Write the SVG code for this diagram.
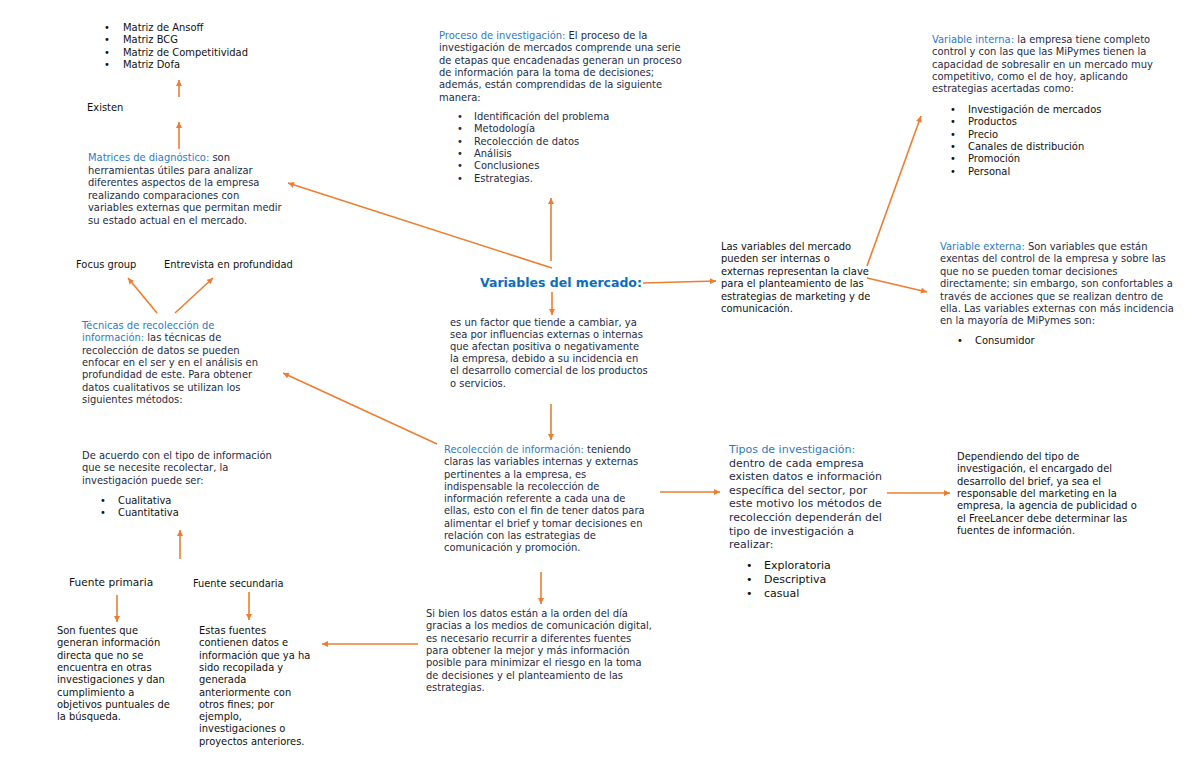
<svg xmlns="http://www.w3.org/2000/svg" width="1200" height="776" viewBox="0 0 1200 776">
<defs>
<marker id="ah" viewBox="0 0 10 10" refX="10" refY="5" markerWidth="7" markerHeight="6" markerUnits="userSpaceOnUse" orient="auto">
<path d="M0,0 L10,5 L0,10 z" fill="#ed7d31"/>
</marker>
<style>
text{font-family:"DejaVu Sans","Liberation Sans",sans-serif;font-size:9.93px;fill:#1f2b45}
.h{fill:#2e7ac4}
.k{fill:#111111}
.t{font-size:12.5px;font-weight:bold;fill:#0a6ebd}
.m{font-size:11px}
.c line{stroke:#ed7d31;stroke-width:1.6;marker-end:url(#ah)}
</style>
</defs>
<rect width="1200" height="776" fill="#ffffff"/>

<g class="c" id="connectors">
<line x1="179" y1="97" x2="179" y2="80"/>
<line x1="179" y1="149" x2="179" y2="122"/>
<line x1="552" y1="268" x2="288" y2="183"/>
<line x1="551" y1="261" x2="551" y2="198"/>
<line x1="643" y1="283" x2="716" y2="281"/>
<line x1="552" y1="292" x2="552" y2="315"/>
<line x1="551" y1="404" x2="551" y2="440"/>
<line x1="437" y1="444" x2="283" y2="373"/>
<line x1="157" y1="313" x2="128" y2="278"/>
<line x1="175" y1="313" x2="213" y2="278"/>
<line x1="660" y1="492" x2="720" y2="492"/>
<line x1="887" y1="493" x2="950" y2="493"/>
<line x1="541" y1="572" x2="541" y2="604"/>
<line x1="418" y1="644" x2="322" y2="644"/>
<line x1="117" y1="595" x2="117" y2="622"/>
<line x1="249" y1="592" x2="249" y2="620"/>
<line x1="180" y1="559" x2="180" y2="530"/>
<line x1="867" y1="266" x2="921" y2="116"/>
<line x1="867" y1="278" x2="927" y2="292"/>
</g>

<g id="matrices-list" class="k">
<text class="k" x="104" y="31">•<tspan x="104" dy="12.3">•</tspan><tspan x="104" dy="12.3">•</tspan><tspan x="104" dy="12.3">•</tspan></text>
<text class="k" x="123" y="31">Matriz de Ansoff<tspan x="123" dy="12.3">Matriz BCG</tspan><tspan x="123" dy="12.3">Matriz de Competitividad</tspan><tspan x="123" dy="12.3">Matriz Dofa</tspan></text>
</g>

<g id="existen"><text class="k" x="87" y="111">Existen</text></g>

<g id="matrices">
<text x="88" y="161"><tspan class="h">Matrices de diagnóstico:</tspan> son<tspan x="88" dy="12.5">herramientas útiles para analizar</tspan><tspan x="88" dy="12.5">diferentes aspectos de la empresa</tspan><tspan x="88" dy="12.5">realizando comparaciones con</tspan><tspan x="88" dy="12.5">variables externas que permitan medir</tspan><tspan x="88" dy="12.5">su estado actual en el mercado.</tspan></text>
</g>

<g id="proceso">
<text x="439" y="39"><tspan class="h">Proceso de investigación:</tspan> El proceso de la<tspan x="439" dy="12.3">investigación de mercados comprende una serie</tspan><tspan x="439" dy="12.3">de etapas que encadenadas generan un proceso</tspan><tspan x="439" dy="12.3">de información para la toma de decisiones;</tspan><tspan x="439" dy="12.3">además, están comprendidas de la siguiente</tspan><tspan x="439" dy="12.3">manera:</tspan></text>
<text x="457" y="120">•<tspan x="457" dy="12.3">•</tspan><tspan x="457" dy="12.3">•</tspan><tspan x="457" dy="12.3">•</tspan><tspan x="457" dy="12.3">•</tspan><tspan x="457" dy="12.3">•</tspan></text>
<text x="474" y="120">Identificación del problema<tspan x="474" dy="12.3">Metodología</tspan><tspan x="474" dy="12.3">Recolección de datos</tspan><tspan x="474" dy="12.3">Análisis</tspan><tspan x="474" dy="12.3">Conclusiones</tspan><tspan x="474" dy="12.3">Estrategias.</tspan></text>
</g>

<g id="variable-interna">
<text x="932" y="43"><tspan class="h">Variable interna:</tspan> la empresa tiene completo<tspan x="932" dy="12.3">control y con las que las MiPymes tienen la</tspan><tspan x="932" dy="12.3">capacidad de sobresalir en un mercado muy</tspan><tspan x="932" dy="12.3">competitivo, como el de hoy, aplicando</tspan><tspan x="932" dy="12.3">estrategias acertadas como:</tspan></text>
<text class="k" x="950" y="113">•<tspan x="950" dy="12.3">•</tspan><tspan x="950" dy="12.3">•</tspan><tspan x="950" dy="12.3">•</tspan><tspan x="950" dy="12.3">•</tspan><tspan x="950" dy="12.3">•</tspan></text>
<text class="k" x="968" y="113">Investigación de mercados<tspan x="968" dy="12.3">Productos</tspan><tspan x="968" dy="12.3">Precio</tspan><tspan x="968" dy="12.3">Canales de distribución</tspan><tspan x="968" dy="12.3">Promoción</tspan><tspan x="968" dy="12.3">Personal</tspan></text>
</g>

<g id="focus-group"><text class="k" x="76" y="268">Focus group</text></g>
<g id="entrevista"><text class="k" x="164" y="268">Entrevista en profundidad</text></g>

<g id="tecnicas">
<text x="82" y="329"><tspan class="h">Técnicas de recolección de</tspan><tspan x="82" dy="12.3" class="h">información:</tspan> las técnicas de<tspan x="82" dy="12.3">recolección de datos se pueden</tspan><tspan x="82" dy="12.3">enfocar en el ser y en el análisis en</tspan><tspan x="82" dy="12.3">profundidad de este. Para obtener</tspan><tspan x="82" dy="12.3">datos cualitativos se utilizan los</tspan><tspan x="82" dy="12.3">siguientes métodos:</tspan></text>
</g>

<g id="variables-mercado">
<text class="t" x="480" y="287">Variables del mercado:</text>
</g>

<g id="definicion">
<text x="450" y="326">es un factor que tiende a cambiar, ya<tspan x="450" dy="12.1">sea por influencias externas o internas</tspan><tspan x="450" dy="12.1">que afectan positiva o negativamente</tspan><tspan x="450" dy="12.1">la empresa, debido a su incidencia en</tspan><tspan x="450" dy="12.1">el desarrollo comercial de los productos</tspan><tspan x="450" dy="12.1">o servicios.</tspan></text>
</g>

<g id="las-variables">
<text class="k" x="721" y="250">Las variables del mercado<tspan x="721" dy="12.4">pueden ser internas o</tspan><tspan x="721" dy="12.4">externas representan la clave</tspan><tspan x="721" dy="12.4">para el planteamiento de las</tspan><tspan x="721" dy="12.4">estrategias de marketing y de</tspan><tspan x="721" dy="12.4">comunicación.</tspan></text>
</g>

<g id="variable-externa">
<text x="940" y="250"><tspan class="h">Variable externa:</tspan> Son variables que están<tspan x="940" dy="12.4">exentas del control de la empresa y sobre las</tspan><tspan x="940" dy="12.4">que no se pueden tomar decisiones</tspan><tspan x="940" dy="12.4">directamente; sin embargo, son confortables a</tspan><tspan x="940" dy="12.4">través de acciones que se realizan dentro de</tspan><tspan x="940" dy="12.4">ella. Las variables externas con más incidencia</tspan><tspan x="940" dy="12.4">en la mayoría de MiPymes son:</tspan></text>
<text class="k" x="957" y="344">•</text>
<text class="k" x="975" y="344">Consumidor</text>
</g>

<g id="de-acuerdo">
<text x="82" y="459">De acuerdo con el tipo de información<tspan x="82" dy="12.3">que se necesite recolectar, la</tspan><tspan x="82" dy="12.3">investigación puede ser:</tspan></text>
<text class="k" x="100" y="504">•<tspan x="100" dy="12.3">•</tspan></text>
<text class="k" x="118" y="504">Cualitativa<tspan x="118" dy="12.3">Cuantitativa</tspan></text>
</g>

<g id="recoleccion">
<text x="444" y="453"><tspan class="h">Recolección de información:</tspan> teniendo<tspan x="444" dy="12.25">claras las variables internas y externas</tspan><tspan x="444" dy="12.25">pertinentes a la empresa, es</tspan><tspan x="444" dy="12.25">indispensable la recolección de</tspan><tspan x="444" dy="12.25">información referente a cada una de</tspan><tspan x="444" dy="12.25">ellas, esto con el fin de tener datos para</tspan><tspan x="444" dy="12.25">alimentar el brief y tomar decisiones en</tspan><tspan x="444" dy="12.25">relación con las estrategias de</tspan><tspan x="444" dy="12.25">comunicación y promoción.</tspan></text>
</g>

<g id="tipos">
<text class="m" x="729" y="453"><tspan class="h">Tipos de investigación:</tspan><tspan x="729" dy="13.6">dentro de cada empresa</tspan><tspan x="729" dy="13.6">existen datos e información</tspan><tspan x="729" dy="13.6">específica del sector, por</tspan><tspan x="729" dy="13.6">este motivo los métodos de</tspan><tspan x="729" dy="13.6">recolección dependerán del</tspan><tspan x="729" dy="13.6">tipo de investigación a</tspan><tspan x="729" dy="13.6">realizar:</tspan></text>
<text class="m k" x="746" y="569">•<tspan x="746" dy="13.9">•</tspan><tspan x="746" dy="13.9">•</tspan></text>
<text class="m k" x="764" y="569">Exploratoria<tspan x="764" dy="13.9">Descriptiva</tspan><tspan x="764" dy="13.9">casual</tspan></text>
</g>

<g id="dependiendo">
<text class="k" x="957" y="460">Dependiendo del tipo de<tspan x="957" dy="12.3">investigación, el encargado del</tspan><tspan x="957" dy="12.3">desarrollo del brief, ya sea el</tspan><tspan x="957" dy="12.3">responsable del marketing en la</tspan><tspan x="957" dy="12.3">empresa, la agencia de publicidad o</tspan><tspan x="957" dy="12.3">el FreeLancer debe determinar las</tspan><tspan x="957" dy="12.3">fuentes de información.</tspan></text>
</g>

<g id="fuente-primaria"><text class="k" x="69" y="586" style="font-size:10.6px">Fuente primaria</text></g>
<g id="fuente-secundaria"><text class="k" x="193" y="587" style="font-size:9.8px">Fuente secundaria</text></g>

<g id="son-fuentes">
<text class="k" x="57" y="634">Son fuentes que<tspan x="57" dy="12.3">generan información</tspan><tspan x="57" dy="12.3">directa que no se</tspan><tspan x="57" dy="12.3">encuentra en otras</tspan><tspan x="57" dy="12.3">investigaciones y dan</tspan><tspan x="57" dy="12.3">cumplimiento a</tspan><tspan x="57" dy="12.3">objetivos puntuales de</tspan><tspan x="57" dy="12.3">la búsqueda.</tspan></text>
</g>

<g id="estas-fuentes">
<text class="k" x="199" y="634">Estas fuentes<tspan x="199" dy="12.3">contienen datos e</tspan><tspan x="199" dy="12.3">información que ya ha</tspan><tspan x="199" dy="12.3">sido recopilada y</tspan><tspan x="199" dy="12.3">generada</tspan><tspan x="199" dy="12.3">anteriormente con</tspan><tspan x="199" dy="12.3">otros fines; por</tspan><tspan x="199" dy="12.3">ejemplo,</tspan><tspan x="199" dy="12.3">investigaciones o</tspan><tspan x="199" dy="12.3">proyectos anteriores.</tspan></text>
</g>

<g id="si-bien">
<text x="426" y="617">Si bien los datos están a la orden del día<tspan x="426" dy="12.3">gracias a los medios de comunicación digital,</tspan><tspan x="426" dy="12.3">es necesario recurrir a diferentes fuentes</tspan><tspan x="426" dy="12.3">para obtener la mejor y más información</tspan><tspan x="426" dy="12.3">posible para minimizar el riesgo en la toma</tspan><tspan x="426" dy="12.3">de decisiones y el planteamiento de las</tspan><tspan x="426" dy="12.3">estrategias.</tspan></text>
</g>
</svg>
